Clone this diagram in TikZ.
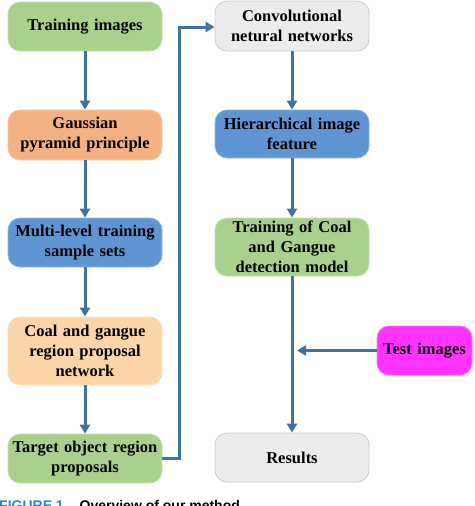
\documentclass[tikz,border=0pt]{standalone}
\usepackage{fontspec}
\setmainfont{Liberation Serif}
\setsansfont{Liberation Sans}
\usetikzlibrary{arrows.meta}
\definecolor{cgreen}{HTML}{A9D18E}
\definecolor{corange}{HTML}{F4B183}
\definecolor{cblue}{HTML}{5F95D3}
\definecolor{cpeach}{HTML}{FCD5A8}
\definecolor{cgray}{HTML}{ECECEC}
\definecolor{cmag}{HTML}{FF33FF}
\definecolor{carrow}{HTML}{41719C}
\definecolor{ccap}{HTML}{1A8CD8}
\tikzset{
  box/.style={rounded corners=12pt, draw=#1!70!white, fill=#1, line width=0.8pt,
    minimum width=154pt, text width=150pt, align=center, inner sep=0pt,
    font=\fontsize{16.5}{20}\selectfont\bfseries},
  flow/.style={draw=carrow, line width=3pt, -{Triangle[width=10pt,length=9pt]}}
}
\begin{document}
\begin{tikzpicture}[x=1pt,y=-1pt]
\useasboundingbox (0,0) rectangle (474,506);
\clip (0,0) rectangle (474,506);
\node[box=cgreen, minimum height=49pt] (ti) at (85,26.5) {Training images};
\node[box=corange, minimum height=50pt] (gp) at (85,135) {Gaussian\\pyramid principle};
\node[box=cblue, minimum height=49pt] (ml) at (85,242.5) {Multi-level training\\sample sets};
\node[box=cpeach, minimum height=68pt] (cg) at (85,351) {Coal and gangue\\region proposal\\network};
\node[box=cgreen, minimum height=49pt] (to) at (85,458.5) {Target object region\\proposals};
\node[box=cgray, draw=gray!40, minimum height=50pt] (cn) at (292,26) {Convolutional\\netural networks};
\node[box=cblue, minimum height=48pt] (hi) at (292,134) {Hierarchical image\\feature};
\node[box=cgreen, minimum height=58pt] (tr) at (292,247) {Training of Coal\\and Gangue\\detection model};
\node[box=cmag, minimum width=95pt, text width=93pt, minimum height=49pt] (te) at (424.5,350.5) {Test images};
\node[box=cgray, draw=gray!40, minimum height=49pt] (re) at (292,457.5) {Results};
\coordinate (tin) at (297,350.5);
\coordinate (c1) at (179,458);
\coordinate (c2) at (179,27);
\draw[flow] (ti) -- (gp);
\draw[flow] (gp) -- (ml);
\draw[flow] (ml) -- (cg);
\draw[flow] (cg) -- (to);
\draw[flow] (to.east |- c1) -- (c1) -- (c2) -- (cn.west |- c2);
\draw[flow] (cn) -- (hi);
\draw[flow] (hi) -- (tr);
\draw[flow] (tr) -- (re);
\draw[flow] (te) -- (tin);
\node[anchor=base west, inner sep=0pt, font=\sffamily\bfseries\fontsize{14}{16}\selectfont] (cap) at (-1,510) {\textcolor{ccap}{FIGURE 1.}\hspace{12pt}Overview of our method};
\end{tikzpicture}
\end{document}
